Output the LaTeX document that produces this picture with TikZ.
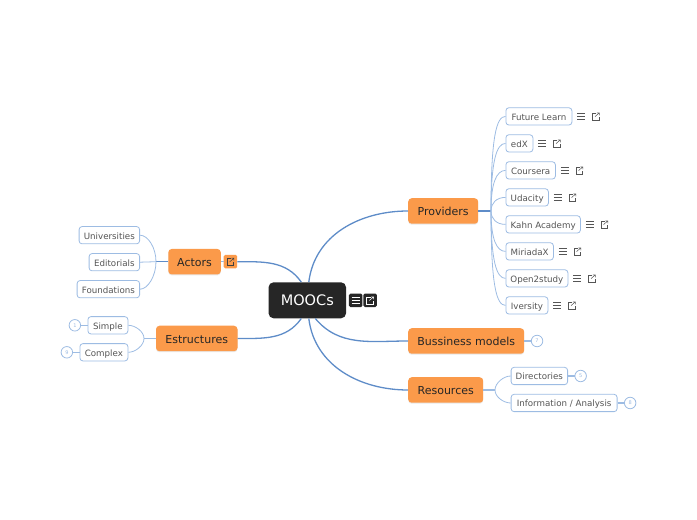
\documentclass[tikz,border=0pt]{standalone}
\usepackage{fontspec}
\setmainfont{DejaVu Sans}
\usetikzlibrary{positioning,shadows}

\definecolor{rootfill}{HTML}{262626}
\definecolor{mainfill}{HTML}{FB9A4A}
\definecolor{mainline}{HTML}{5E8CC8}
\definecolor{subline}{HTML}{9DBCE3}
\definecolor{subtext}{HTML}{555555}

\tikzset{
  rootnode/.style={rectangle,rounded corners=5pt,fill=rootfill,text=white,font=\fontsize{14.5}{15}\selectfont,text height=12pt,text depth=1pt,minimum width=77.5pt,minimum height=36pt,inner sep=0pt},
  mainnode/.style={rectangle,rounded corners=3.5pt,fill=mainfill,text=black!85,font=\fontsize{11}{11}\selectfont,text height=10pt,text depth=.5pt,minimum height=25.5pt,inner sep=0pt,drop shadow={opacity=.18,shadow xshift=0pt,shadow yshift=-1pt}},
  subnode/.style={rectangle,rounded corners=3pt,draw=subline,fill=white,line width=.8pt,text=subtext,font=\fontsize{8.7}{8.7}\selectfont,text height=8.5pt,text depth=.5pt,minimum height=17.3pt,inner sep=0pt},
  countnode/.style={circle,draw=subline,fill=white,line width=.8pt,text=subline,font=\fontsize{5}{5}\selectfont,minimum size=11.5pt,inner sep=0pt},
  iconbox/.style={rectangle,rounded corners=1.5pt,minimum size=13.5pt,inner sep=0pt},
  mainlink/.style={draw=mainline,line width=1.3pt},
  hublink/.style={draw=mainline,line width=1.3pt},
  sublink/.style={draw=subline,line width=.8pt},
  countlink/.style={draw=subline,line width=1.2pt},
  pics/noteicon/.style={code={
    \draw[#1,line width=.7pt] (-4pt,3pt) -- (4pt,3pt) (-4pt,0pt) -- (4pt,0pt) (-4pt,-3pt) -- (4pt,-3pt);}},
  pics/linkicon/.style={code={
    \draw[#1,line width=.5pt] (.5pt,3pt) -- (-3.5pt,3pt) -- (-3.5pt,-3.5pt) -- (3pt,-3.5pt) -- (3pt,-.5pt);
    \draw[#1,line width=.5pt] (-.8pt,-.2pt) -- (3.5pt,3.5pt) (1pt,3.5pt) -- (3.5pt,3.5pt) -- (3.5pt,1pt);}},
}

\begin{document}
\begin{tikzpicture}[x=1pt,y=1pt]
  \useasboundingbox (0,0) rectangle (697,520);

  \node[rootnode] (MOOCs) at (307.3,219.7) {MOOCs};
  \node[iconbox,fill=rootfill] (MOOCsNote) at (355.7,219.7) {};
  \node[iconbox,fill=rootfill,right=.5pt of MOOCsNote] (MOOCsLink) {};

  \node[mainnode,minimum width=70pt,anchor=west] (Providers) at (408,309) {Providers};
  \node[mainnode,minimum width=116pt,anchor=west] (Bussiness) at (408,179) {Bussiness models};
  \node[mainnode,minimum width=75pt,anchor=west] (Resources) at (408,130) {Resources};
  \node[mainnode,minimum width=52.5pt,anchor=east] (Actors) at (221,258.3) {Actors};
  \node[iconbox,fill=mainfill,right=2.5pt of Actors] (ActorsLink) {};
  \node[mainnode,minimum width=81.5pt,anchor=east] (Estructures) at (237.7,181.5) {Estructures};

  \node[subnode,minimum width=66pt,anchor=west] (Future) at (505.5,403.6) {Future Learn};
  \node[subnode,minimum width=27pt,below=8.9pt of Future.south west,anchor=north west] (edX) {edX};
  \node[subnode,minimum width=49.5pt,below=8.9pt of edX.south west,anchor=north west] (Coursera) {Coursera};
  \node[subnode,minimum width=42.5pt,below=8.9pt of Coursera.south west,anchor=north west] (Udacity) {Udacity};
  \node[subnode,minimum width=74.5pt,below=8.9pt of Udacity.south west,anchor=north west] (Kahn) {Kahn Academy};
  \node[subnode,minimum width=47.5pt,below=8.9pt of Kahn.south west,anchor=north west] (Miriada) {MiriadaX};
  \node[subnode,minimum width=62pt,below=8.9pt of Miriada.south west,anchor=north west] (Open) {Open2study};
  \node[subnode,minimum width=42pt,below=8.9pt of Open.south west,anchor=north west] (Iversity) {Iversity};

  \node[subnode,minimum width=56.5pt,anchor=west] (Directories) at (510.7,144) {Directories};
  \node[subnode,minimum width=106pt,below=8.9pt of Directories.south west,anchor=north west] (Information) {Information / Analysis};

  \node[subnode,minimum width=60.5pt,anchor=east] (Universities) at (140,284.8) {Universities};
  \node[subnode,minimum width=50.5pt,below=8.9pt of Universities.south east,anchor=north east] (Editorials) {Editorials};
  \node[subnode,minimum width=62.5pt,below=8.9pt of Editorials.south east,anchor=north east] (Foundations) {Foundations};

  \node[subnode,minimum width=40pt,anchor=east] (Simple) at (128.3,194.7) {Simple};
  \node[subnode,minimum width=48pt,below=8.9pt of Simple.south east,anchor=north east] (Complex) {Complex};

  \node[countnode,right=6.5pt of Bussiness] (BussinessCount) {7};
  \node[countnode,right=6.5pt of Directories] (DirectoriesCount) {5};
  \node[countnode,right=6.5pt of Information] (InformationCount) {8};
  \node[countnode,left=6.5pt of Simple] (SimpleCount) {1};
  \node[countnode,left=6.5pt of Complex] (ComplexCount) {9};

  \coordinate (ProvidersHub) at (491,309);
  \coordinate (ResourcesHub) at (495,130);
  \coordinate (ActorsHub) at (156,258.3);
  \coordinate (EstructuresHub) at (144,181.5);

  % root branches
  \draw[mainlink] ([xshift=1.5pt]MOOCs.north) to[out=83,in=180] (Providers.west);
  \draw[mainlink] ([xshift=1.5pt]MOOCs.south) to[out=-83,in=180] (Resources.west);
  \draw[mainlink] ([xshift=8pt]MOOCs.south) to[out=-50,in=180] (Bussiness.west);
  \draw[mainlink] ([xshift=-6pt]MOOCs.north) to[out=125,in=0] (ActorsLink.east);
  \draw[mainlink] ([xshift=-6pt]MOOCs.south) to[out=-125,in=0] (Estructures.east);

  % hubs
  \draw[hublink] (Providers.east) -- (ProvidersHub);
  \draw[hublink] (Actors.west) -- (ActorsHub);
  \draw[countlink] (Resources.east) -- (ResourcesHub);
  \draw[countlink] (Estructures.west) -- (EstructuresHub);
  \draw[countlink] (Actors.east) -- (ActorsLink.west);

  \foreach \nd/\dd in {Future/75,edX/50,Coursera/28,Udacity/8}
    \draw[sublink] (ProvidersHub) to[out=90,in=180,out distance=\dd pt,in distance=9pt] (\nd.west);
  \foreach \nd/\dd in {Kahn/8,Miriada/28,Open/50,Iversity/75}
    \draw[sublink] (ProvidersHub) to[out=-90,in=180,out distance=\dd pt,in distance=9pt] (\nd.west);
  \draw[sublink] (ResourcesHub) to[out=90,in=180,out distance=7pt,in distance=7pt] (Directories.west);
  \draw[sublink] (ResourcesHub) to[out=-90,in=180,out distance=7pt,in distance=7pt] (Information.west);
  \draw[sublink] (ActorsHub) to[out=90,in=0,out distance=14pt,in distance=8pt] (Universities.east);
  \draw[sublink] (ActorsHub) -- (Editorials.east);
  \draw[sublink] (ActorsHub) to[out=-90,in=0,out distance=14pt,in distance=8pt] (Foundations.east);
  \draw[sublink] (EstructuresHub) to[out=90,in=0,out distance=7pt,in distance=7pt] (Simple.east);
  \draw[sublink] (EstructuresHub) to[out=-90,in=0,out distance=7pt,in distance=7pt] (Complex.east);

  \draw[countlink] (Bussiness.east) -- (BussinessCount);
  \draw[countlink] (Directories.east) -- (DirectoriesCount);
  \draw[countlink] (Information.east) -- (InformationCount);
  \draw[countlink] (Simple.west) -- (SimpleCount);
  \draw[countlink] (Complex.west) -- (ComplexCount);

  % icons
  \foreach \nd in {Future,edX,Coursera,Udacity,Kahn,Miriada,Open,Iversity}{
    \pic at ([xshift=9pt]\nd.east) {noteicon=subtext};
    \pic at ([xshift=23.5pt]\nd.east) {linkicon=subtext};
  }
  \pic at (MOOCsNote) {noteicon=white};
  \pic at (MOOCsLink) {linkicon=white};
  \pic at (ActorsLink) {linkicon=black!75};
\end{tikzpicture}
\end{document}
